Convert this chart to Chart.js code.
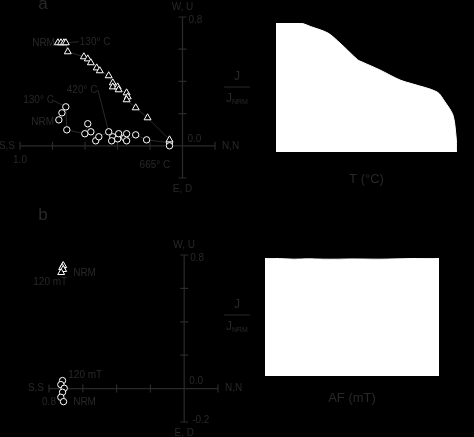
<!DOCTYPE html>
<html>
<head>
<meta charset="utf-8">
<script src="https://cdn.jsdelivr.net/npm/chart.js@4.4.1/dist/chart.umd.min.js"></script>
<style>
body { margin: 0; background: #000; width: 474px; height: 437px; position: relative; overflow: hidden; }
canvas { position: absolute; }
</style>
</head>
<body>
<canvas id="thermA" width="264" height="200" style="left:210px;top:0"></canvas>
<canvas id="afB" width="264" height="237" style="left:210px;top:200px"></canvas>
<canvas id="zijA" width="260" height="200" style="left:0;top:0"></canvas>
<canvas id="zijB" width="260" height="237" style="left:0;top:200px"></canvas>
<script>
// sample a, thermal demagnetisation (Zijderveld)
const thermUpS = [0.767, 0.748, 0.730, 0.718, 0.706, 0.607, 0.583, 0.564, 0.528, 0.509, 0.454,
                  0.429, 0.429, 0.399, 0.393, 0.344, 0.337, 0.344, 0.288, 0.215, 0.080];
const thermUpW = [0.640, 0.640, 0.640, 0.640, 0.584, 0.553, 0.540, 0.516, 0.484, 0.466, 0.435,
                  0.391, 0.366, 0.366, 0.348, 0.329, 0.304, 0.286, 0.236, 0.174, 0.037];
const thermHorS = [0.761, 0.742, 0.718, 0.712, 0.601, 0.583, 0.564, 0.534, 0.515, 0.454, 0.429,
                   0.436, 0.399, 0.393, 0.356, 0.344, 0.344, 0.288, 0.221, 0.080, 0.080];
const thermHorE = [0.161, 0.205, 0.242, 0.099, 0.075, 0.137, 0.087, 0.031, 0.056, 0.087, 0.056,
                   0.031, 0.043, 0.075, 0.050, 0.075, 0.031, 0.068, 0.037, 0.019, 0.000];

// sample a, J/Jnrm vs temperature
const thermT = [0, 88, 132, 191, 235, 301, 316, 382, 456, 503, 592, 621, 650, 661, 665];
const thermJ = [1.0, 1.0, 0.969, 0.922, 0.845, 0.713, 0.698, 0.636, 0.558, 0.527, 0.465, 0.388, 0.287, 0.132, 0];

// sample b, AF demagnetisation (Zijderveld)
const afUpS = [0.716, 0.722, 0.716, 0.728];
const afUpW = [0.737, 0.725, 0.713, 0.695];
const afHorS = [0.720, 0.730, 0.710, 0.720, 0.730, 0.714];
const afHorE = [0.048, 0.024, 0.002, -0.022, -0.052, -0.078];

// sample b, J/Jnrm vs AF field
const afField = [0, 10, 20, 30, 40, 50, 60, 80, 100, 120];
const afJ = [1.0, 0.995, 0.99, 0.993, 0.99, 0.99, 0.992, 0.99, 0.995, 1.0];

// axis texts
const endLabels = ['S,S', 'N,N', 'W, U', 'E, D'];
const ticksA = ['1.0', '0.0', '0.8'];
const ticksB = ['0.8', '0.0', '0.8', '-0.2'];

// notes: text, S, U, align
const notesA = [['NRM', 0.785, 0.640, 'right'], ['130° C', 0.632, 0.646, 'left'],
                ['420° C', 0.712, 0.348, 'left'], ['130° C', 0.980, 0.286, 'left'],
                ['NRM', 0.790, 0.149, 'right'], ['665° C', 0.264, -0.118, 'left']];
const notesB = [['NRM', 0.657, 0.689, 'left'], ['120 mT', 0.893, 0.635, 'left'],
                ['120 mT', 0.686, 0.078, 'left'], ['NRM', 0.657, -0.084, 'left']];

const dark = '#2a2a2a';
const textDark = '#282828';
const font = '10px "Liberation Sans", Arial, sans-serif';

function pts(xs, ys) {
    return xs.map((v, i) => ({ x: v, y: ys[i] }));
}

function zijPlugin(ticks, notes, leaders) {
    return {
        id: 'zij',
        beforeDatasetsDraw(chart) {
            const { ctx, scales: { x, y } } = chart;
            const x0 = x.getPixelForValue(0), y0 = y.getPixelForValue(0);
            ctx.save();
            ctx.strokeStyle = dark;
            ctx.lineWidth = 1.2;
            ctx.beginPath();
            ctx.moveTo(x.getPixelForValue(x.max), y0);
            ctx.lineTo(x.getPixelForValue(x.min), y0);
            ctx.moveTo(x0, y.getPixelForValue(y.max));
            ctx.lineTo(x0, y.getPixelForValue(y.min));
            for (let v = x.min; v <= x.max + 1e-6; v += 0.2) {
                if (Math.abs(v) < 1e-6) continue;
                const p = x.getPixelForValue(v);
                ctx.moveTo(p, y0 - 4);
                ctx.lineTo(p, y0 + 4);
            }
            for (let v = y.min; v <= y.max + 1e-6; v += 0.2) {
                if (Math.abs(v) < 1e-6) continue;
                const p = y.getPixelForValue(v);
                ctx.moveTo(x0 - 4, p);
                ctx.lineTo(x0 + 4, p);
            }
            ctx.stroke();
            // leader lines from notes to points
            ctx.lineWidth = 1;
            ctx.beginPath();
            leaders.forEach(([s, u, ds, i]) => {
                const el = chart.getDatasetMeta(ds).data[i];
                ctx.moveTo(x.getPixelForValue(s), y.getPixelForValue(u));
                ctx.lineTo(el.x, el.y);
            });
            ctx.stroke();
            ctx.restore();
        },
        afterDatasetsDraw(chart) {
            const { ctx, scales: { x, y } } = chart;
            const x0 = x.getPixelForValue(0), y0 = y.getPixelForValue(0);
            const left = x.getPixelForValue(x.max), right = x.getPixelForValue(x.min);
            const top = y.getPixelForValue(y.max), bottom = y.getPixelForValue(y.min);
            ctx.save();
            ctx.fillStyle = textDark;
            ctx.font = font;
            ctx.textBaseline = 'middle';
            ctx.textAlign = 'right';
            ctx.fillText(endLabels[0], left - 5, y0);
            ctx.textAlign = 'left';
            ctx.fillText(endLabels[1], right + 7, y0);
            ctx.textAlign = 'center';
            ctx.fillText(endLabels[2], x0, top - 10);
            ctx.fillText(endLabels[3], x0, bottom + 11);
            ctx.fillText(ticks[0], left, y0 + 14);
            ctx.textAlign = 'left';
            ctx.fillText(ticks[1], x0 + 5, y0 - 7);
            ctx.fillText(ticks[2], x0 + 6, top + 3);
            if (ticks[3]) ctx.fillText(ticks[3], x0 + 8, bottom - 2);
            notes.forEach(([t, s, u, al]) => {
                ctx.textAlign = al;
                ctx.fillText(t, x.getPixelForValue(s), y.getPixelForValue(u));
            });
            ctx.restore();
        }
    };
}

function zijChart(id, letter, up, hor, range, padding, ticks, notes, leaders) {
    return new Chart(document.getElementById(id), {
        type: 'scatter',
        data: {
            datasets: [
                { data: up, showLine: true, borderColor: dark, borderWidth: 1,
                  pointStyle: 'triangle', pointRadius: 4, pointBorderColor: '#fff',
                  pointBackgroundColor: '#000', pointBorderWidth: 1 },
                { data: hor, showLine: true, borderColor: dark, borderWidth: 1,
                  pointStyle: 'circle', pointRadius: 3.2, pointBorderColor: '#fff',
                  pointBackgroundColor: '#000', pointBorderWidth: 1 }
            ]
        },
        options: {
            responsive: false,
            animation: false,
            layout: { padding: padding },
            scales: {
                x: { type: 'linear', reverse: true, min: -0.2, max: range, display: false },
                y: { min: -0.2, max: 0.8, display: false }
            },
            plugins: { legend: { display: false }, tooltip: { enabled: false } }
        },
        plugins: [zijPlugin(ticks, notes, leaders), {
            id: 'letter',
            afterDraw(chart) {
                const ctx = chart.ctx;
                ctx.save();
                ctx.fillStyle = textDark;
                ctx.font = '17px "Liberation Sans", Arial, sans-serif';
                ctx.textAlign = 'center';
                ctx.textBaseline = 'middle';
                ctx.fillText(letter, 43, letter === 'a' ? 4 : 15);
                ctx.restore();
            }
        }]
    });
}

function curveChart(id, xs, ys, xmax, padding, xTitle, titleY, jY) {
    return new Chart(document.getElementById(id), {
        type: 'line',
        data: {
            datasets: [{
                data: pts(xs, ys), borderColor: '#fff', borderWidth: 1,
                backgroundColor: '#fff', fill: 'origin', pointRadius: 0, tension: 0.3
            }]
        },
        options: {
            responsive: false,
            animation: false,
            layout: { padding: padding },
            scales: {
                x: { type: 'linear', min: 0, max: xmax, display: false },
                y: { min: 0, max: 1, display: false }
            },
            plugins: { legend: { display: false }, tooltip: { enabled: false } }
        },
        plugins: [{
            id: 'titles',
            afterDraw(chart) {
                const { ctx, chartArea } = chart;
                ctx.save();
                ctx.fillStyle = textDark;
                ctx.strokeStyle = textDark;
                ctx.textAlign = 'center';
                ctx.textBaseline = 'middle';
                ctx.font = '13px "Liberation Sans", Arial, sans-serif';
                ctx.fillText(xTitle, (chartArea.left + chartArea.right) / 2, titleY);
                ctx.font = '12px "Liberation Sans", Arial, sans-serif';
                ctx.fillText('J', 27, jY - 10);
                ctx.beginPath();
                ctx.moveTo(14, jY);
                ctx.lineTo(40, jY);
                ctx.stroke();
                ctx.textAlign = 'left';
                ctx.fillText('J', 16, jY + 12);
                ctx.font = '7px "Liberation Sans", Arial, sans-serif';
                ctx.fillText('NRM', 22, jY + 15);
                ctx.restore();
            }
        }]
    });
}

zijChart('zijA', 'a', pts(thermUpS, thermUpW), pts(thermHorS, thermHorE), 1.0,
    { left: 20, right: 45, top: 17, bottom: 22 }, ticksA, notesA,
    [[0.638, 0.646, 0, 3], [0.804, 0.286, 1, 2], [0.521, 0.348, 1, 9]]);

zijChart('zijB', 'b', pts(afUpS, afUpW), pts(afHorS, afHorE), 0.8,
    { left: 49, right: 42, top: 55, bottom: 15 }, ticksB, notesB, []);

curveChart('thermA', thermT, thermJ, 665,
    { left: 66, right: 17, top: 23, bottom: 48 }, 'T (°C)', 179, 87);

curveChart('afB', afField, afJ, 120,
    { left: 55, right: 35, top: 58, bottom: 61 }, 'AF (mT)', 198, 115);
</script>
</body>
</html>
